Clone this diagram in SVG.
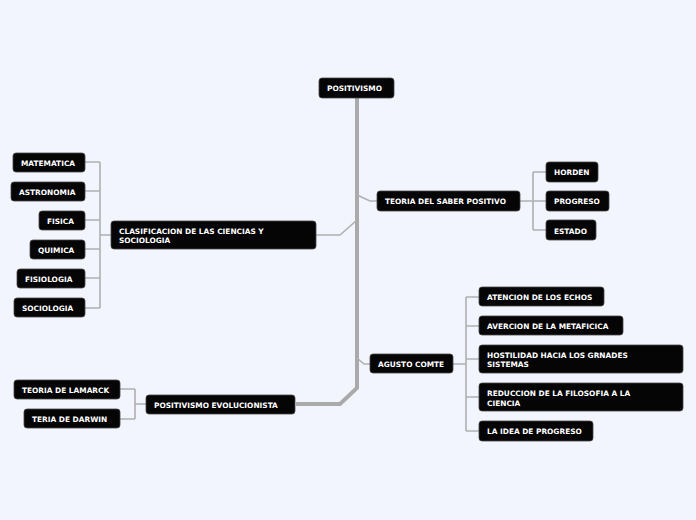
<svg xmlns="http://www.w3.org/2000/svg" width="696" height="520" viewBox="0 0 696 520">
<style>
.n rect{fill:#050505;stroke:#444;stroke-width:0.8}
.n text{fill:#fff;font-family:"DejaVu Sans",Verdana,sans-serif;font-weight:bold;font-size:7.4px}
.c{fill:none;stroke:#b0b0b0;stroke-width:1.6}
</style>
<rect width="696" height="520" fill="#f3f5fe"/>
<g id="connectors">
<path d="M357 98 V388 L340 404 H296" fill="none" stroke="#aaaaaa" stroke-width="4"/>
<path class="c" d="M357 195 L370 201 H377"/>
<path class="c" d="M316 235 H340 L357 220"/>
<path class="c" d="M357 358 L364 364 H370"/>
<path class="c" d="M520 201 H533 M533 172 V230 M533 172 H546 M533 201 H546 M533 230 H546"/>
<path class="c" d="M111 235 H100 M100 162 V308 M85 162 H100 M85 191 H100 M85 220 H100 M85 249 H100 M85 278 H100 M85 308 H100"/>
<path class="c" d="M146 404 H135 M135 389 V419 M120 389 H135 M120 419 H135"/>
<path class="c" d="M453 364 H466 M466 297 V431 M466 297 H479 M466 326 H479 M466 359 H479 M466 397 H479 M466 431 H479"/>
</g>
<g id="root" class="n"><rect x="319" y="78" width="75" height="20" rx="3"/><text x="327" y="91">POSITIVISMO</text></g>
<g id="teoria" class="n"><rect x="377" y="191" width="143" height="20" rx="3"/><text x="385" y="204">TEORIA DEL SABER POSITIVO</text></g>
<g id="horden" class="n"><rect x="546" y="162" width="52" height="20" rx="3"/><text x="554" y="175">HORDEN</text></g>
<g id="progreso" class="n"><rect x="546" y="191" width="63" height="20" rx="3"/><text x="554" y="204">PROGRESO</text></g>
<g id="estado" class="n"><rect x="546" y="220" width="50" height="20" rx="3"/><text x="554" y="234">ESTADO</text></g>
<g id="clasificacion" class="n"><rect x="111" y="221" width="205" height="28" rx="3"/><text x="119" y="234">CLASIFICACION DE LAS CIENCIAS Y</text><text x="119" y="243">SOCIOLOGIA</text></g>
<g id="matematica" class="n"><rect x="13" y="153" width="72" height="19" rx="3"/><text x="21" y="166">MATEMATICA</text></g>
<g id="astronomia" class="n"><rect x="11" y="182" width="74" height="19" rx="3"/><text x="19" y="195">ASTRONOMIA</text></g>
<g id="fisica" class="n"><rect x="39" y="211" width="46" height="19" rx="3"/><text x="47" y="224">FISICA</text></g>
<g id="quimica" class="n"><rect x="30" y="240" width="55" height="19" rx="3"/><text x="38" y="253">QUIMICA</text></g>
<g id="fisiologia" class="n"><rect x="17" y="269" width="68" height="19" rx="3"/><text x="25" y="282">FISIOLOGIA</text></g>
<g id="sociologia" class="n"><rect x="14" y="298" width="71" height="19" rx="3"/><text x="22" y="311">SOCIOLOGIA</text></g>
<g id="evolucionista" class="n"><rect x="146" y="395" width="149" height="19" rx="3"/><text x="154" y="408">POSITIVISMO EVOLUCIONISTA</text></g>
<g id="lamarck" class="n"><rect x="14" y="380" width="106" height="19" rx="3"/><text x="22" y="393">TEORIA DE LAMARCK</text></g>
<g id="darwin" class="n"><rect x="24" y="409" width="96" height="19" rx="3"/><text x="32" y="422">TERIA DE DARWIN</text></g>
<g id="comte" class="n"><rect x="370" y="354" width="83" height="19" rx="3"/><text x="378" y="367">AGUSTO COMTE</text></g>
<g id="atencion" class="n"><rect x="479" y="287" width="125" height="19" rx="3"/><text x="487" y="300">ATENCION DE LOS ECHOS</text></g>
<g id="avercion" class="n"><rect x="479" y="316" width="144" height="19" rx="3"/><text x="487" y="329">AVERCION DE LA METAFICICA</text></g>
<g id="hostilidad" class="n"><rect x="479" y="345" width="204" height="28" rx="3"/><text x="487" y="358">HOSTILIDAD HACIA LOS GRNADES</text><text x="487" y="367">SISTEMAS</text></g>
<g id="reduccion" class="n"><rect x="479" y="383" width="204" height="28" rx="3"/><text x="487" y="396">REDUCCION DE LA FILOSOFIA A LA</text><text x="487" y="406">CIENCIA</text></g>
<g id="idea" class="n"><rect x="479" y="421" width="114" height="20" rx="3"/><text x="487" y="434">LA IDEA DE PROGRESO</text></g>
</svg>
